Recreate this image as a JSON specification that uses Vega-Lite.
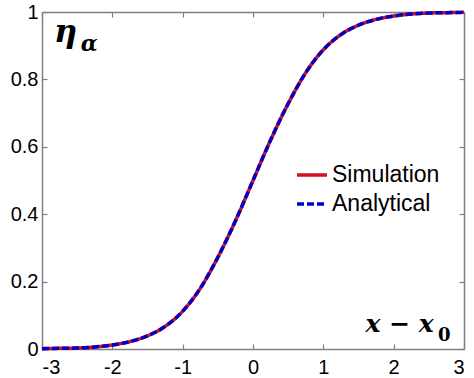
{
  "$schema": "https://vega.github.io/schema/vega-lite/v6.json",
  "width": 422,
  "height": 337,
  "autosize": "none",
  "padding": {"left": 42, "top": 12, "right": 10, "bottom": 29},
  "background": "white",
  "config": {
    "view": {"stroke": null},
    "axis": {
      "grid": false,
      "domainColor": "#808080",
      "domainWidth": 1.5,
      "tickColor": "#808080",
      "tickWidth": 1.2,
      "tickSize": -5,
      "labelFont": "Liberation Sans",
      "labelFontSize": 20,
      "labelColor": "black",
      "title": null
    }
  },
  "datasets": {
    "curves": [
      {"x": -3, "y": 0.001, "series": "Simulation"},
      {"x": -2.75, "y": 0.002, "series": "Simulation"},
      {"x": -2.5, "y": 0.003, "series": "Simulation"},
      {"x": -2.25, "y": 0.006, "series": "Simulation"},
      {"x": -2, "y": 0.012, "series": "Simulation"},
      {"x": -1.75, "y": 0.022, "series": "Simulation"},
      {"x": -1.5, "y": 0.039, "series": "Simulation"},
      {"x": -1.25, "y": 0.067, "series": "Simulation"},
      {"x": -1, "y": 0.112, "series": "Simulation"},
      {"x": -0.75, "y": 0.18, "series": "Simulation"},
      {"x": -0.5, "y": 0.272, "series": "Simulation"},
      {"x": -0.25, "y": 0.38, "series": "Simulation"},
      {"x": 0, "y": 0.5, "series": "Simulation"},
      {"x": 0.25, "y": 0.62, "series": "Simulation"},
      {"x": 0.5, "y": 0.728, "series": "Simulation"},
      {"x": 0.75, "y": 0.82, "series": "Simulation"},
      {"x": 1, "y": 0.888, "series": "Simulation"},
      {"x": 1.25, "y": 0.933, "series": "Simulation"},
      {"x": 1.5, "y": 0.961, "series": "Simulation"},
      {"x": 1.75, "y": 0.978, "series": "Simulation"},
      {"x": 2, "y": 0.988, "series": "Simulation"},
      {"x": 2.25, "y": 0.994, "series": "Simulation"},
      {"x": 2.5, "y": 0.997, "series": "Simulation"},
      {"x": 2.75, "y": 0.998, "series": "Simulation"},
      {"x": 3, "y": 0.999, "series": "Simulation"},
      {"x": -3, "y": 0.001, "series": "Analytical"},
      {"x": -2.75, "y": 0.002, "series": "Analytical"},
      {"x": -2.5, "y": 0.003, "series": "Analytical"},
      {"x": -2.25, "y": 0.006, "series": "Analytical"},
      {"x": -2, "y": 0.012, "series": "Analytical"},
      {"x": -1.75, "y": 0.022, "series": "Analytical"},
      {"x": -1.5, "y": 0.039, "series": "Analytical"},
      {"x": -1.25, "y": 0.067, "series": "Analytical"},
      {"x": -1, "y": 0.112, "series": "Analytical"},
      {"x": -0.75, "y": 0.18, "series": "Analytical"},
      {"x": -0.5, "y": 0.272, "series": "Analytical"},
      {"x": -0.25, "y": 0.38, "series": "Analytical"},
      {"x": 0, "y": 0.5, "series": "Analytical"},
      {"x": 0.25, "y": 0.62, "series": "Analytical"},
      {"x": 0.5, "y": 0.728, "series": "Analytical"},
      {"x": 0.75, "y": 0.82, "series": "Analytical"},
      {"x": 1, "y": 0.888, "series": "Analytical"},
      {"x": 1.25, "y": 0.933, "series": "Analytical"},
      {"x": 1.5, "y": 0.961, "series": "Analytical"},
      {"x": 1.75, "y": 0.978, "series": "Analytical"},
      {"x": 2, "y": 0.988, "series": "Analytical"},
      {"x": 2.25, "y": 0.994, "series": "Analytical"},
      {"x": 2.5, "y": 0.997, "series": "Analytical"},
      {"x": 2.75, "y": 0.998, "series": "Analytical"},
      {"x": 3, "y": 0.999, "series": "Analytical"}
    ]
  },
  "layer": [
    {
      "data": {"name": "curves"},
      "transform": [{"filter": "datum.series === 'Simulation'"}],
      "mark": {"type": "line", "strokeWidth": 3.5, "interpolate": "monotone"},
      "encoding": {
        "x": {"field": "x", "type": "quantitative", "scale": {"domain": [-3, 3], "nice": false},
              "axis": {"orient": "bottom", "values": [-3, -2, -1, 0, 1, 2, 3], "labelExpr": "'' + datum.value", "labelPadding": 13}},
        "y": {"field": "y", "type": "quantitative", "scale": {"domain": [0, 1], "nice": false},
              "axis": {"orient": "left", "values": [0, 0.2, 0.4, 0.6, 0.8, 1], "labelExpr": "'' + datum.value", "labelPadding": 9}},
        "color": {"field": "series", "type": "nominal",
                  "scale": {"domain": ["Simulation", "Analytical"], "range": ["#d0101e", "#0000c8"]},
                  "legend": {"orient": "none", "legendX": 253, "legendY": 146, "title": null,
                             "symbolType": "stroke", "symbolSize": 900, "symbolStrokeWidth": 3.5,
                             "labelFont": "Liberation Sans", "labelFontSize": 23, "labelColor": "black",
                             "labelOffset": 3, "rowPadding": 0, "padding": 0}},
        "strokeDash": {"field": "series", "type": "nominal",
                       "scale": {"domain": ["Simulation", "Analytical"], "range": [[1, 0], [7, 3]]}}
      }
    },
    {
      "data": {"name": "curves"},
      "transform": [{"filter": "datum.series === 'Analytical'"}],
      "mark": {"type": "line", "strokeWidth": 3.5, "interpolate": "monotone"},
      "encoding": {
        "x": {"field": "x", "type": "quantitative",
              "axis": {"orient": "top", "values": [-3, -2, -1, 0, 1, 2, 3], "labels": false}},
        "y": {"field": "y", "type": "quantitative",
              "axis": {"orient": "right", "values": [0, 0.2, 0.4, 0.6, 0.8, 1], "labels": false}},
        "color": {"field": "series", "type": "nominal"},
        "strokeDash": {"field": "series", "type": "nominal"}
      }
    },
    {
      "data": {"values": [{"t": "η"}]},
      "mark": {"type": "text", "font": "DejaVu Serif", "fontStyle": "italic", "fontWeight": "bold", "fontSize": 32, "align": "left", "baseline": "alphabetic", "color": "black"},
      "encoding": {
        "x": {"datum": -2.83, "type": "quantitative", "axis": null},
        "y": {"datum": 0.912, "type": "quantitative", "axis": null},
        "text": {"field": "t"}
      }
    },
    {
      "data": {"values": [{"t": "α"}]},
      "mark": {"type": "text", "font": "DejaVu Serif", "fontStyle": "italic", "fontWeight": "bold", "fontSize": 22, "align": "left", "baseline": "alphabetic", "color": "black"},
      "encoding": {
        "x": {"datum": -2.45, "type": "quantitative", "axis": null},
        "y": {"datum": 0.885, "type": "quantitative", "axis": null},
        "text": {"field": "t"}
      }
    },
    {
      "data": {"values": [{"t": "x − x"}]},
      "mark": {"type": "text", "font": "DejaVu Serif", "fontStyle": "italic", "fontWeight": "bold", "fontSize": 25, "align": "left", "baseline": "alphabetic", "color": "black"},
      "encoding": {
        "x": {"datum": 1.6, "type": "quantitative", "axis": null},
        "y": {"datum": 0.05, "type": "quantitative", "axis": null},
        "text": {"field": "t"}
      }
    },
    {
      "data": {"values": [{"t": "0"}]},
      "mark": {"type": "text", "font": "DejaVu Serif", "fontWeight": "bold", "fontSize": 18, "align": "left", "baseline": "alphabetic", "color": "black"},
      "encoding": {
        "x": {"datum": 2.63, "type": "quantitative", "axis": null},
        "y": {"datum": 0.024, "type": "quantitative", "axis": null},
        "text": {"field": "t"}
      }
    }
  ],
  "resolve": {"axis": {"x": "independent", "y": "independent"}}
}
